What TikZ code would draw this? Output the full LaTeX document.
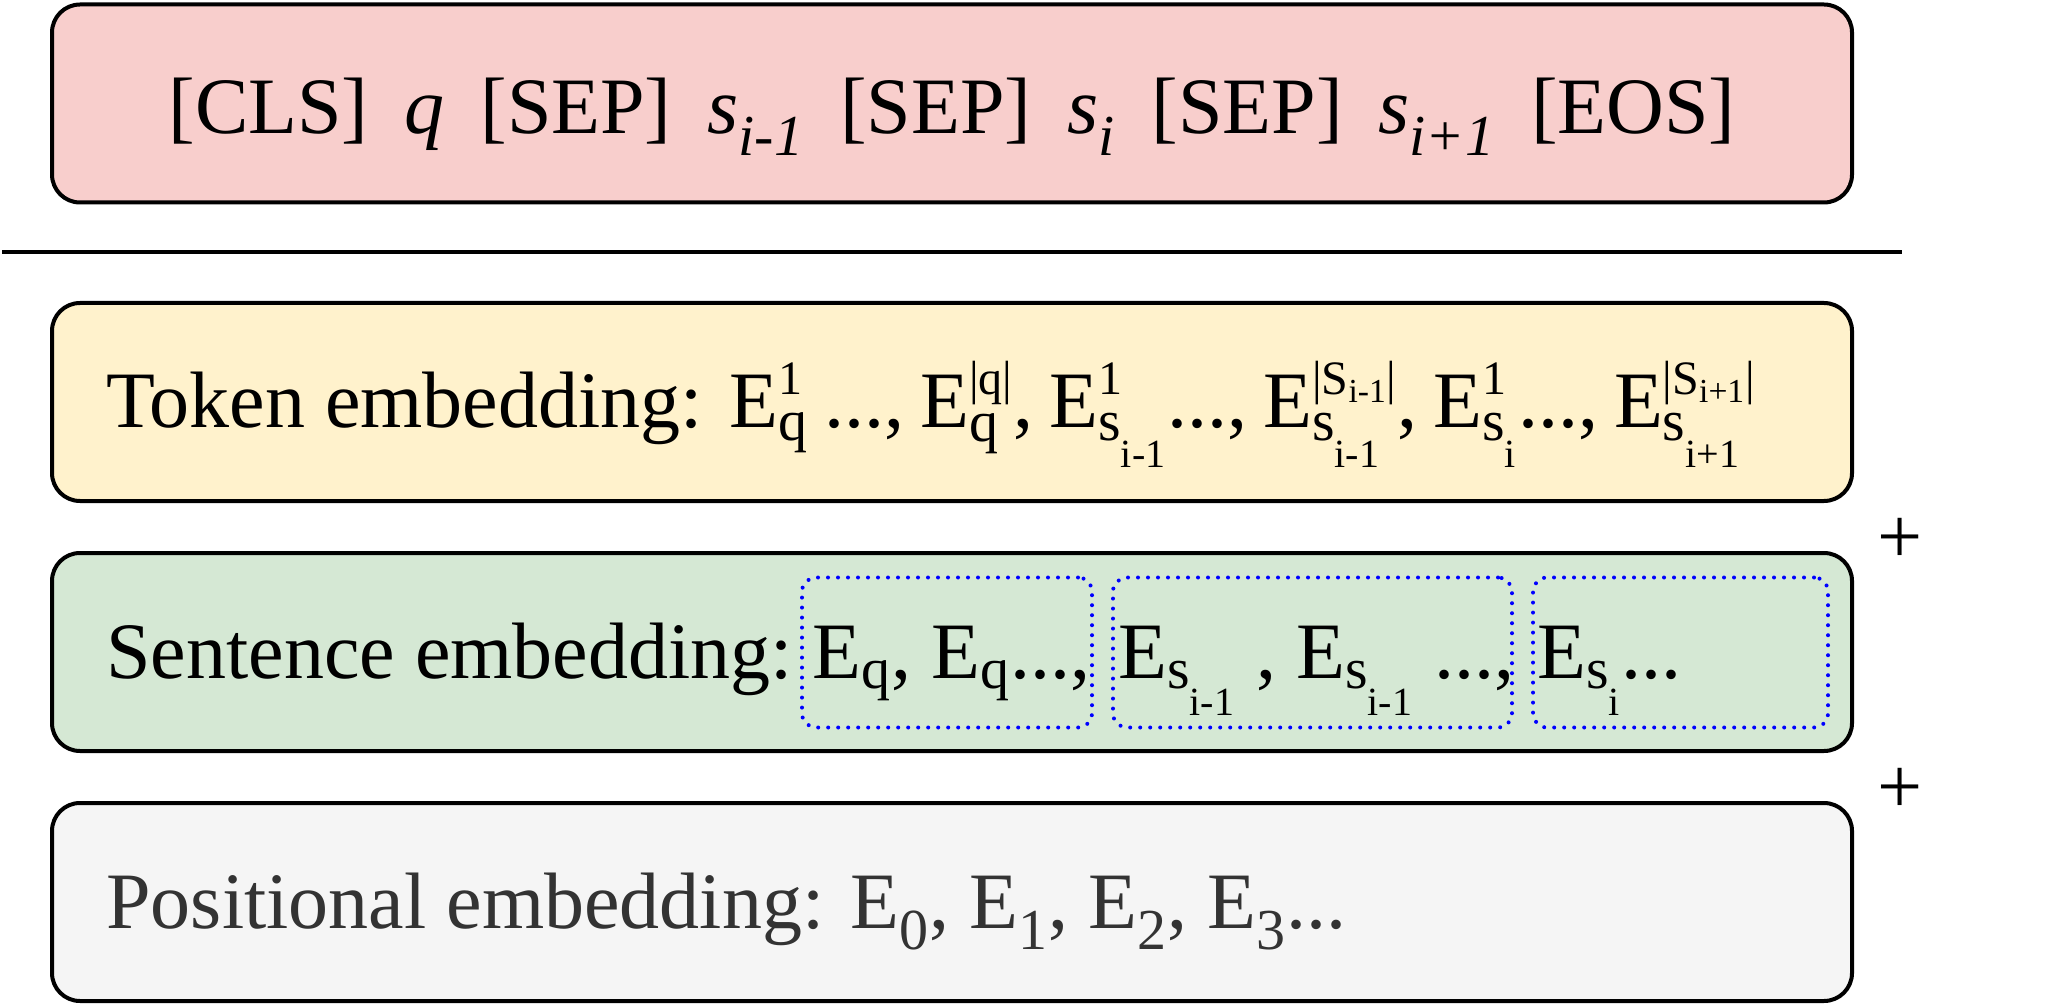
\documentclass[tikz,border=0pt]{standalone}
\usepackage{amsmath}
\usepackage{fontspec}
\setmainfont{Liberation Serif}
\usepackage{tikz}
\usetikzlibrary{calc}
\definecolor{clsbg}{HTML}{F8CECC}
\definecolor{tokbg}{HTML}{FFF2CC}
\definecolor{sentbg}{HTML}{D5E8D4}
\definecolor{posbg}{HTML}{F5F5F5}
\definecolor{postext}{HTML}{333333}
\DeclareMathSizes{40}{40}{29}{20}
\newcommand{\bigfont}{\fontsize{40}{48}\selectfont}
\newcommand{\tx}[1]{\text{#1}}
\newcommand{\sps}[1]{\text{\fontsize{24}{26}\selectfont #1}} % superscript text
\newcommand{\ssb}[1]{\raisebox{-10pt}{\fontsize{20}{22}\selectfont #1}} % lowered sub-subscript
\newcommand{\sgap}{\hspace{0.45em}}
\tikzstyle{panel}=[draw=black,line width=2pt,rounded corners=14pt,
                   minimum width=900pt,minimum height=99pt,inner sep=0pt]
\tikzstyle{group}=[draw=blue,line width=2pt,dash pattern=on 0pt off 5pt,
                   line cap=round,rounded corners=7pt,minimum height=75pt,inner sep=0pt]
\tikzstyle{rowtext}=[anchor=base west,inner sep=0pt,font=\bigfont]

\begin{document}
\begin{tikzpicture}[x=0.5pt,y=-0.5pt]
            \useasboundingbox (0,0) rectangle (2055,1005);

            % PANELS
            \foreach \nm/\yy/\col in {cls/103.5/clsbg,tok/402/tokbg,sent/652/sentbg,pos/902/posbg}{
              \node[panel,fill=\col] (\nm) at (952,\yy) {};
            }

            % SEPARATOR
            \coordinate (sepL) at (2,252);
            \coordinate (sepR) at (1902,252);
            \draw[line width=2pt] (sepL) -- (sepR);

            % INPUT SEQUENCE
            \node[anchor=base,inner sep=0pt,font=\bigfont] (seq) at (952,134)
              {[CLS]\sgap\textit{q}\sgap[SEP]\sgap$\textit{s}_{\textit{i-1}}$\sgap[SEP]\sgap$\textit{s}_{\textit{i}}$\sgap[SEP]\sgap$\textit{s}_{\textit{i+1}}$\sgap[EOS]};

            % EMBEDDINGS
            \node[rowtext] (toktext) at (106,428)
              {Token embedding: \spaceskip=0.2em $\tx{E}^{\sps{1}}_{\tx{q}}$ ..., $\tx{E}^{\sps{|q|}}_{\tx{q}}$, $\tx{E}^{\sps{1}}_{\tx{s}_{\ssb{i-1}}}$..., $\tx{E}^{\sps{|S\textsubscript{i-1}|}}_{\tx{s}_{\ssb{i-1}}}$, $\tx{E}^{\sps{1}}_{\tx{s}_{\ssb{i}}}$..., $\tx{E}^{\sps{|S\textsubscript{i+1}|}}_{\tx{s}_{\ssb{i+1}}}$};
            \node[rowtext] (senttext) at (106,678) {Sentence embedding:};
            \node[rowtext] (sentq) at (812,678) {$\tx{E}_{\tx{q}}$, $\tx{E}_{\tx{q}}$...,};
            \node[rowtext] (sentprev) at (1118,678) {$\tx{E}_{\tx{s}_{\ssb{i-1}}}$ , $\tx{E}_{\tx{s}_{\ssb{i-1}}}$ ...,};
            \node[rowtext] (sentcur) at (1537,678) {$\tx{E}_{\tx{s}_{\ssb{i}}}$...};
            \node[rowtext,text=postext] (postext) at (106,928)
              {Positional embedding: E$_{\tx{0}}$, E$_{\tx{1}}$, E$_{\tx{2}}$, E$_{\tx{3}}$...};

            % SENTENCE GROUPS
            \node[group,minimum width=145pt] (grpq) at (947,652.5) {};
            \node[group,minimum width=199.5pt] (grpprev) at (1312.5,652.5) {};
            \node[group,minimum width=147.5pt] (grpcur) at (1680.5,652.5) {};

            % PLUS SIGNS
            \node[font=\bigfont,inner sep=0pt] (plusa) at (1900,541) {+};
            \node[font=\bigfont,inner sep=0pt] (plusb) at (1900,791) {+};

\end{tikzpicture}
\end{document}
